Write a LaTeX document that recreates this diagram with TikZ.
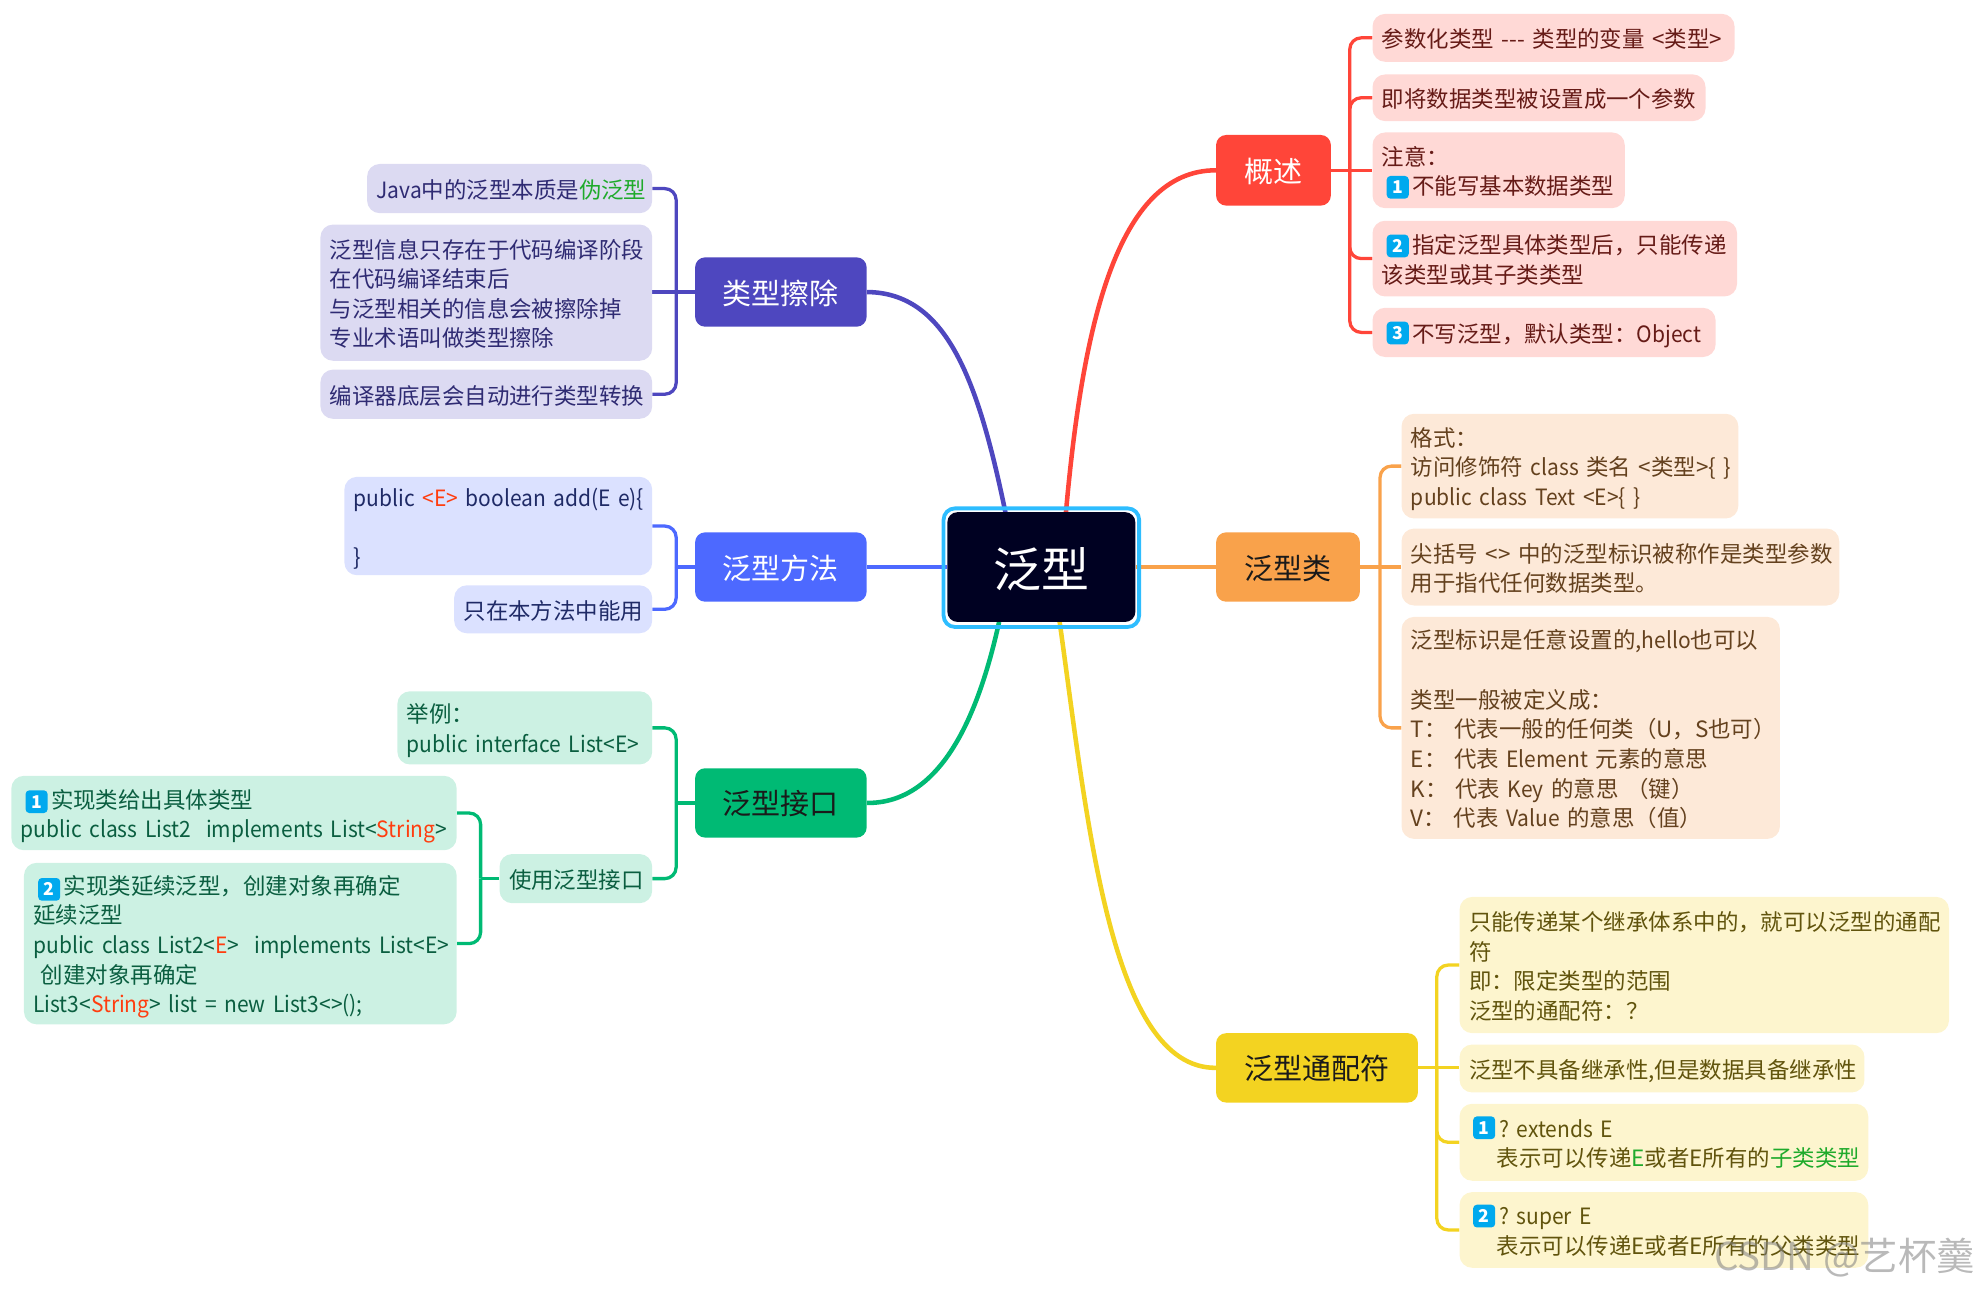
\documentclass[tikz,border=0pt]{standalone}
\usepackage{fontspec}
\setmainfont{Noto Sans CJK SC}
\newfontfamily\lafont[FakeStretch=.935]{Noto Sans CJK SC}
\usetikzlibrary{calc}
\pgfdeclarelayer{bg}
\pgfsetlayers{bg,main}
\definecolor{cred}{HTML}{FF4539}
\definecolor{cpurple}{HTML}{4E47BF}
\definecolor{cblue}{HTML}{4D69FF}
\definecolor{cgreen}{HTML}{00BA74}
\definecolor{corange}{HTML}{F9A24B}
\definecolor{cyellow}{HTML}{F3D321}
\definecolor{lred}{HTML}{FFD9D6}
\definecolor{lpurple}{HTML}{DCDAF2}
\definecolor{lblue}{HTML}{DBE1FF}
\definecolor{lgreen}{HTML}{CCF1E3}
\definecolor{lorange}{HTML}{FDE9D8}
\definecolor{lyellow}{HTML}{FDF5CE}
\definecolor{tred}{HTML}{661B17}
\definecolor{tpurple}{HTML}{2F2B73}
\definecolor{tblue}{HTML}{1F2A66}
\definecolor{tgreen}{HTML}{0A5E40}
\definecolor{torange}{HTML}{64411E}
\definecolor{tyellow}{HTML}{61540D}
\definecolor{hlred}{HTML}{FF3D0F}
\definecolor{hlgreen}{HTML}{1FAA2B}
\definecolor{rootfill}{HTML}{000122}
\definecolor{rootring}{HTML}{2EBDFF}
\definecolor{badgeblue}{HTML}{00A9EE}
\definecolor{branchdark}{HTML}{1A1A1A}
\tikzset{
  branchbox/.style={rounded corners=8pt,inner sep=0pt,font=\fontsize{23}{28}\selectfont,align=center},
  leafbox/.style={rounded corners=10pt,inner xsep=7.5pt,inner ysep=0pt,align=left,font=\fontsize{17.8}{23.5}\selectfont,
    execute at begin node={\hyphenpenalty=10000 \exhyphenpenalty=10000 \rule{0pt}{20.6pt}},
    execute at end node={\rule[-5pt]{0pt}{5pt}}},
  lr/.style={leafbox,fill=lred,text=tred},
  lp/.style={leafbox,fill=lpurple,text=tpurple},
  lb/.style={leafbox,fill=lblue,text=tblue},
  lg/.style={leafbox,fill=lgreen,text=tgreen},
  lo/.style={leafbox,fill=lorange,text=torange},
  ly/.style={leafbox,fill=lyellow,text=tyellow},
  badge/.style={fill=badgeblue,text=white,rounded corners=3pt,minimum width=17.5pt,minimum height=18pt,inner sep=0pt,font=\fontsize{14}{14}\selectfont\bfseries},
  curve/.style={line width=3.6pt},
  tree/.style={line width=2.6pt,rounded corners=9pt},
  stub/.style={line width=2.6pt},
}
\newcommand\leaf[6]{%
  \pgfmathsetmacro\cx{(#2+#4)/2}\pgfmathsetmacro\cy{(#3+#5)/2}%
  \pgfmathsetmacro\bw{#4-#2}\pgfmathsetmacro\bh{#5-#3}\pgfmathsetmacro\tw{#4-#2-15}%
  \node[#6,minimum width=\bw pt,minimum height=\bh pt,text width=\tw pt] (#1) at (\cx,\cy)}
\newcommand\branch[7]{%
  \pgfmathsetmacro\cx{(#2+#4)/2}\pgfmathsetmacro\cy{(#3+#5)/2}%
  \pgfmathsetmacro\bw{#4-#2}\pgfmathsetmacro\bh{#5-#3}%
  \node[branchbox,#6,minimum width=\bw pt,minimum height=\bh pt] (#1) at (\cx,\cy) {\raisebox{-9.5pt}[0pt][0pt]{#7}}}
\newcommand\ind{\hspace*{24pt}}
\newcommand\hlr[1]{\textcolor{hlred}{#1}}
\newcommand\hlg[1]{\textcolor{hlgreen}{#1}}
\newcommand\la[1]{{\lafont #1}}
\begin{document}
\begin{tikzpicture}[x=1pt,y=-1pt]
\useasboundingbox (0,0) rectangle (1568,1025);
% root
\node[fill=rootfill,rounded corners=8pt,minimum width=149pt,minimum height=87pt,inner sep=0pt,text=white,font=\fontsize{38}{44}\selectfont] (root) at (825.5,449.5) {\raisebox{-16pt}[0pt][0pt]{泛型}};
\node[draw=rootring,line width=3pt,rounded corners=9pt,minimum width=155pt,minimum height=94pt,inner sep=0pt] (ring) at (825.5,450) {};
% branches
\branch{gaishu}{964}{107}{1055}{163}{fill=cred,text=white}{概述};
\branch{cachu}{551}{204}{687}{259}{fill=cpurple,text=white}{类型擦除};
\branch{fangfa}{551}{422}{687}{477}{fill=cblue,text=white}{泛型方法};
\branch{jiekou}{551}{609}{687}{664}{fill=cgreen,text=branchdark}{泛型接口};
\branch{lei}{964}{422}{1078}{477}{fill=corange,text=branchdark}{泛型类};
\branch{tongpei}{964}{819}{1124}{874}{fill=cyellow,text=branchdark}{泛型通配符};
% overview leaves
\leaf{ga}{1088}{11}{1375}{49}{lr}{参数化类型~-{}-{}-~类型的变量~<类型>};
\leaf{gb}{1088}{59}{1352}{96}{lr}{即将数据类型被设置成一个参数};
\leaf{gc}{1088}{105}{1288}{165}{lr}{注意：\\\ind 不能写基本数据类型};
\leaf{gd}{1088}{175}{1377}{235}{lr}{\ind 指定泛型具体类型后，只能传递\\该类型或其子类类型};
\leaf{ge}{1088}{244}{1360}{283}{lr}{\ind 不写泛型，默认类型：\la{Object}};
\node[badge] (bg1) at (1108,148.5) {1};
\node[badge] (bg2) at (1108,195) {2};
\node[badge] (bg3) at (1108,264) {3};
% class leaves
\leaf{la}{1111}{328}{1378}{411}{lo}{格式：\\访问修饰符~\la{class}~类名~<类型>\{~\}\\\la{public~class~Text~<E>\{~\}}};
\leaf{lb}{1111}{419}{1458}{480}{lo}{尖括号~<>~中的泛型标识被称作是类型参数\\用于指代任何数据类型。};
\leaf{lc}{1111}{489}{1411}{665}{lo}{泛型标识是任意设置的,\la{hello}也可以\\\mbox{}\\类型一般被定义成：\\T：~代表一般的任何类（U，S也可）\\E：~代表~\la{Element}~元素的意思\\K：~代表~\la{Key}~的意思~（键）\\V：~代表~\la{Value}~的意思（值）};
% wildcard leaves
\leaf{ta}{1157}{711}{1545}{819}{ly}{只能传递某个继承体系中的，就可以泛型的通配\\符\\即：限定类型的范围\\泛型的通配符：？};
\leaf{tb}{1157}{828}{1478}{866}{ly}{泛型不具备继承性,但是数据具备继承性};
\leaf{tc}{1157}{875}{1481}{936}{ly}{\ind \la{?~extends~E}\\\hspace*{22pt}表示可以传递\hlg{E}或者E所有的\hlg{子类类型}};
\leaf{td}{1157}{945}{1481}{1005}{ly}{\ind \la{?~super~E}\\\hspace*{22pt}表示可以传递E或者E所有的父类类型};
\node[badge] (bt1) at (1176.5,894) {1};
\node[badge] (bt2) at (1176.5,964) {2};
% erasure leaves
\leaf{ca}{291}{130}{517}{169}{lp}{\la{Java}中的泛型本质是\hlg{伪泛型}};
\leaf{cb}{254}{178}{517}{286}{lp}{泛型信息只存在于代码编译阶段\\在代码编译结束后\\与泛型相关的信息会被擦除掉\\专业术语叫做类型擦除};
\leaf{cc}{254}{293}{517}{332}{lp}{编译器底层会自动进行类型转换};
% method leaves
\leaf{fa}{273}{378}{517}{456}{lb}{\la{public~\hlr{<E>}~boolean~add(E~e)\{}\\\mbox{}\\\}};
\leaf{fb}{360}{464}{517}{502}{lb}{只在本方法中能用};
% interface leaves
\leaf{ja}{315}{548}{517}{606}{lg}{举例：\\\la{public~interface~List<E>}};
\leaf{jb}{396}{677}{517}{716}{lg}{使用泛型接口};
\leaf{jc}{9}{615}{362}{674}{lg}{\ind 实现类给出具体类型\\\la{public~class~List2~~implements~List<\hlr{String}>}};
\leaf{jd}{19}{684}{362}{812}{lg}{\ind 实现类延续泛型，创建对象再确定\\延续泛型\\\la{public~class~List2<\hlr{E}>~~implements~List<E>}\\~创建对象再确定\\\la{List3<\hlr{String}>~list~=~new~List3<>();}};
\node[badge] (bj1) at (29,635.5) {1};
\node[badge] (bj2) at (39,705) {2};
% watermark
\node[anchor=east,inner sep=0pt,text=gray,opacity=.55,font=\fontsize{30.5}{34}\selectfont] (mark) at (1566,997) {CSDN @艺杯羹};
% connector ends on the root
\coordinate (pR) at (845,406);
\coordinate (pP) at (797,406);
\coordinate (pG) at (792,493);
\coordinate (pY) at (840,493);
\coordinate (busg) at (1070,0);
\coordinate (busl) at (1094,0);
\coordinate (bust) at (1139,0);
\coordinate (busc) at (536,0);
\coordinate (busj) at (381,0);
\begin{pgfonlayer}{bg}
\draw[curve,cred] (pR) .. controls (858,260) and (885,135) .. (gaishu.west);
\draw[curve,cpurple] (pP) .. controls (775,300) and (750,232) .. (cachu.east);
\draw[curve,cblue] (fangfa.east) -- (root.west |- fangfa.east);
\draw[curve,cgreen] (pG) .. controls (775,570) and (745,637) .. (jiekou.east);
\draw[curve,corange] (root.east |- lei.west) -- (lei.west);
\draw[curve,cyellow] (pY) .. controls (862,650) and (880,847) .. (tongpei.west);
% overview tree
\draw[stub,cred] (gaishu.east) -- (gc.west |- gaishu.east);
\foreach \n in {ga,gb,gd,ge} \draw[tree,cred] (\n.west) -| (busg |- gaishu.east);
% class tree
\draw[stub,corange] (lei.east) -- (lb.west |- lei.east);
\foreach \n in {la,lc} \draw[tree,corange] (\n.west) -| (busl |- lei.east);
% wildcard tree
\draw[stub,cyellow] (tongpei.east) -- (tb.west |- tongpei.east);
\foreach \n in {ta,tc,td} \draw[tree,cyellow] (\n.west) -| (bust |- tongpei.east);
% erasure tree
\draw[stub,cpurple] (cachu.west) -- (cb.east |- cachu.west);
\foreach \n in {ca,cc} \draw[tree,cpurple] (\n.east) -| (busc |- cachu.west);
% method tree
\draw[stub,cblue] (fangfa.west) -- (busc |- fangfa.west);
\foreach \n in {fa,fb} \draw[tree,cblue] (\n.east) -| (busc |- fangfa.west);
% interface tree
\draw[stub,cgreen] (jiekou.west) -- (busc |- jiekou.west);
\foreach \n in {ja,jb} \draw[tree,cgreen] (\n.east) -| (busc |- jiekou.west);
\draw[stub,cgreen] (jb.west) -- (busj |- jb.west);
\foreach \n in {jc,jd} \draw[tree,cgreen] (\n.east) -| (busj |- jb.west);
\end{pgfonlayer}
\end{tikzpicture}
\end{document}
